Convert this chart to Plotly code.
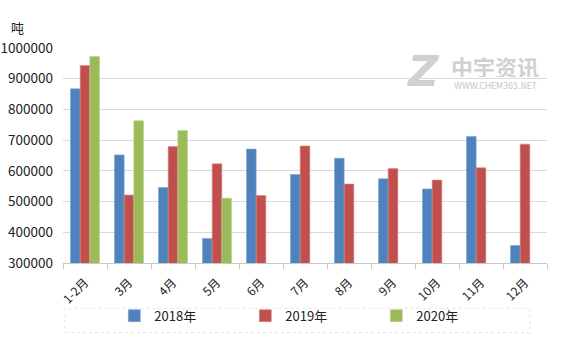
import plotly.graph_objects as go

categories = ["1-2月", "3月", "4月", "5月", "6月", "7月", "8月", "9月", "10月", "11月", "12月"]
y2018 = [867000, 652000, 546000, 380000, 671000, 588000, 641000, 574000, 541000, 712000, 357000]
y2019 = [943000, 521000, 679000, 623000, 520000, 681000, 557000, 608000, 570000, 610000, 687000]
y2020 = [972000, 763000, 731000, 511000, None, None, None, None, None, None, None]
series_names = ["2018年", "2019年", "2020年"]
colors = ["#4F81BD", "#C0504D", "#9BBB59"]
edge_colors = ["#7FA3D3", "#DB8A88", "#BBD38E"]
y_ticks = [300000, 400000, 500000, 600000, 700000, 800000, 900000, 1000000]

FONT = "Noto Sans CJK SC, Noto Sans, sans-serif"

fig = go.Figure()
for name, vals, c, ec in zip(series_names, [y2018, y2019, y2020], colors, edge_colors):
    fig.add_trace(go.Bar(x=categories, y=vals, name=name, marker=dict(color=c, line=dict(color=ec, width=0.6))))

fig.update_layout(
    width=567, height=340,
    margin=dict(l=63, r=20, t=48, b=77, autoexpand=False),
    paper_bgcolor="white", plot_bgcolor="white",
    barmode="group", bargap=0.34, bargroupgap=0,
    font=dict(family=FONT, size=13, color="#222"),
    showlegend=True,
    legend=dict(orientation="h", x=0.106, xanchor="left", y=-0.245, yanchor="middle",
                entrywidth=86, entrywidthmode="pixels",
                font=dict(size=13, color="#222"), itemwidth=30, bgcolor="rgba(0,0,0,0)"),
    xaxis=dict(type="category", showline=True, linecolor="#C8C8C8", linewidth=1,
               ticks="outside", tickson="boundaries", ticklen=5, tickcolor="#C8C8C8",
               tickangle=-45, tickfont=dict(size=12, color="#222"), showgrid=False,
               ticklabelstandoff=7, automargin=False),
    yaxis=dict(range=[300000, 1000000], tickvals=y_ticks, ticktext=[str(v) for v in y_ticks],
               showgrid=True, gridcolor="#D9D9D9", gridwidth=1, zeroline=False,
               showline=False, tickfont=dict(size=13.5, color="#222"), ticklabelstandoff=9,
               automargin=False),
    shapes=[dict(type="rect", xref="paper", yref="paper", x0=0.004, x1=0.965, y0=-0.324, y1=-0.211,
                 line=dict(color="#E4E4E4", width=1, dash="dot"), layer="below")],
    annotations=[
        dict(text="吨", xref="paper", yref="paper", x=(17 - 63) / 484, y=(262.7 - 28) / 214.2,
             xanchor="center", yanchor="middle", showarrow=False, font=dict(size=13, color="#222")),
        dict(text="<b><i>Z</i></b>", xref="paper", yref="paper", x=(423 - 63) / 484, y=(262.7 - 72) / 214.2,
             xanchor="center", yanchor="middle", showarrow=False, font=dict(size=42, color="#D0D0D0", family="DejaVu Sans")),
        dict(text="<b>中宇资讯</b>", xref="paper", yref="paper", x=(495 - 63) / 484, y=(262.7 - 66) / 214.2,
             xanchor="center", yanchor="middle", showarrow=False, height=22,
             font=dict(size=22, color="#D0D0D0", family=FONT)),
        dict(text="WWW.CHEM365.NET", xref="paper", yref="paper", x=(495 - 63) / 484, y=(262.7 - 86) / 214.2,
             xanchor="center", yanchor="middle", showarrow=False, height=10,
             font=dict(size=8, color="#C8C8C8", family="DejaVu Sans")),
    ],
)

fig.write_html("out.html")
